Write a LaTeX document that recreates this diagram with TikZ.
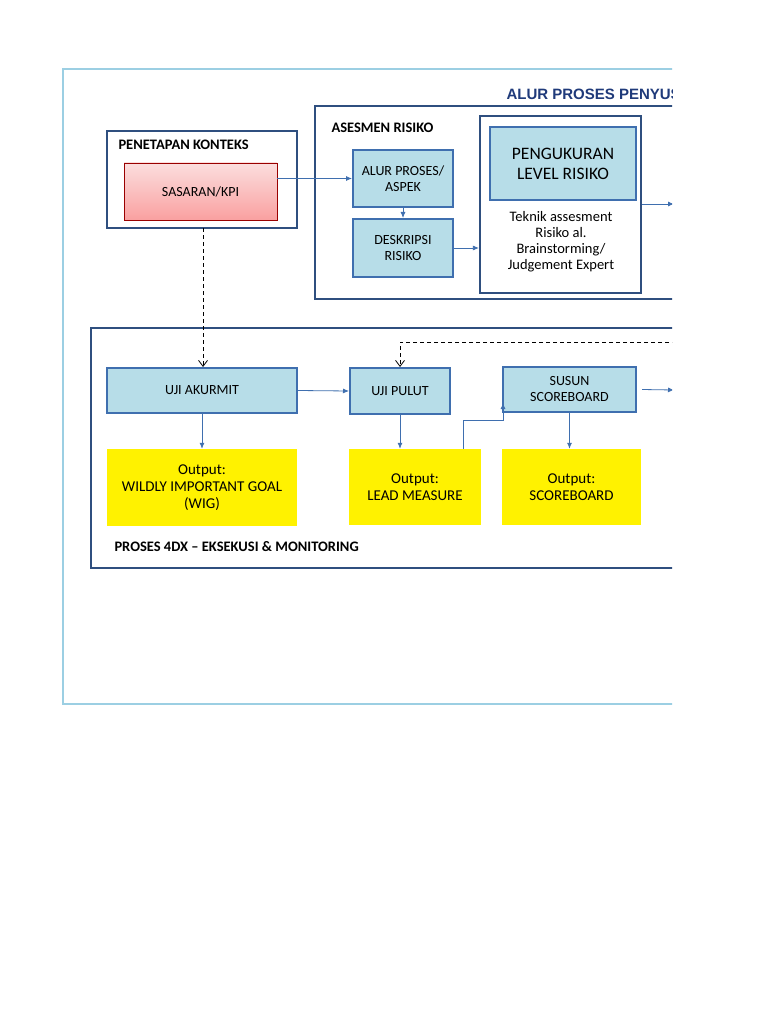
\documentclass[tikz,border=0pt]{standalone}
\usepackage{fontspec}
\setmainfont{Carlito}
\newfontfamily\arialf{Liberation Sans}
\usetikzlibrary{arrows.meta}
\definecolor{frame}{HTML}{9CCFE3}
\definecolor{dkb}{HTML}{2F4F7F}
\definecolor{lb}{HTML}{B7DDE8}
\definecolor{mb}{HTML}{3F6FAF}
\definecolor{pk}{HTML}{F8C8C8}
\definecolor{ttl}{HTML}{1F3A7A}
\tikzset{
 grp/.style={draw=dkb,line width=2.2pt},
 bx/.style={draw=mb,line width=2pt,fill=lb,align=center,font=\fontsize{14}{16}\selectfont},
 yl/.style={fill=yellow,align=center,font=\fontsize{15}{17}\selectfont},
 ar/.style={draw=mb,line width=0.8pt,-{Latex[length=6pt,width=5pt]}},
 da/.style={draw=black,line width=0.8pt,dash pattern=on 4pt off 3pt,-{Straight Barb[length=6pt,width=9pt]}},
 lbl/.style={anchor=west,font=\bfseries\fontsize{14.5}{16}\selectfont}
}
\begin{document}
\begin{tikzpicture}[x=1pt,y=-1pt]
\useasboundingbox[fill=white] (0,0) rectangle (768,1024);
\begin{scope}
\clip (0,0) rectangle (672,1024);
\draw[frame,line width=2pt] (800,69) -- (63,69) -- (63,704) -- (800,704);
\node[anchor=west,text=ttl,font=\arialf\bfseries\fontsize{15}{17}\selectfont] (title) at (503,94) {ALUR PROSES PENYUSUNAN};
% top groups
\draw[grp] (107,131) rectangle (297,228);
\node[lbl] (pk) at (115,145) {PENETAPAN KONTEKS};
\node[draw=red!60!black,line width=0.5pt,top color=pk!60,bottom color=pk!80!red,minimum width=153pt,minimum height=57pt,font=\fontsize{14}{16}\selectfont] (sas) at (200.5,191.5) {SASARAN/KPI};
\draw[grp] (800,106) -- (315,106) -- (315,299) -- (800,299);
\node[lbl] (ar) at (328,128) {ASESMEN RISIKO};
\node[bx,minimum width=100pt,minimum height=57pt] (alur) at (403,178.5) {ALUR PROSES/\\ASPEK};
\node[bx,minimum width=100pt,minimum height=58pt] (desk) at (403,248) {DESKRIPSI\\RISIKO};
\node[grp,minimum width=161pt,minimum height=177pt] (big) at (560.5,204.5) {};
\node[bx,minimum width=146pt,minimum height=73pt,font=\fontsize{17.5}{20}\selectfont] (peng) at (563,163.5) {PENGUKURAN\\LEVEL RISIKO};
\node[align=center,font=\fontsize{14.5}{16}\selectfont] (tek) at (561,242) {Teknik assesment\\Risiko al.\\Brainstorming/\\Judgement Expert};
\coordinate (e1) at (674,204);
\draw[ar] (big.east |- e1) -- (e1);
\draw[ar] (sas.east |- alur) -- (alur.west);
\draw[ar] (alur) -- (desk);
\draw[ar] (desk.east) -- (desk.east -| big.west);
% bottom group
\draw[grp] (800,328) -- (91,328) -- (91,568) -- (800,568);
\node[bx,minimum width=190pt,minimum height=45pt] (uak) at (202,390.5) {UJI AKURMIT};
\node[bx,minimum width=100pt,minimum height=46pt] (upl) at (400,391) {UJI PULUT};
\node[bx,minimum width=133pt,minimum height=45pt] (sus) at (569.5,389.5) {SUSUN\\SCOREBOARD};
\node[yl,minimum width=190pt,minimum height=77pt] (y1) at (202,487.5) {Output:\\WILDLY IMPORTANT GOAL\\(WIG)};
\node[yl,minimum width=132pt,minimum height=76pt] (y2) at (415,487) {Output:\\LEAD MEASURE};
\node[yl,minimum width=139pt,minimum height=76pt] (y3) at (571.5,487) {Output:\\SCOREBOARD};
\node[lbl] (pr) at (111,547) {PROSES 4DX – EKSEKUSI \& MONITORING};
\draw[ar] (uak.south) -- (uak.south |- y1.north);
\draw[ar] (upl.south) -- (upl.south |- y2.north);
\draw[ar] (sus.south) -- (sus.south |- y3.north);
\draw[ar] (uak.east) -- (upl.west);
\coordinate (e2) at (674,390);
\draw[ar] (sus.east) ++(5,0) -- (e2);
\coordinate (lk) at (463,420);
\draw[draw=mb,line width=0.8pt,-{Latex[length=6pt,width=5pt]}] (y2.north -| lk) -- (lk) -- (503,420) -- (503,403);
\draw[da] (203,228) -- (203,367);
\coordinate (d2) at (690,342);
\draw[da] (d2) -- (400,342) -- (upl.north);
\end{scope}
\end{tikzpicture}
\end{document}
